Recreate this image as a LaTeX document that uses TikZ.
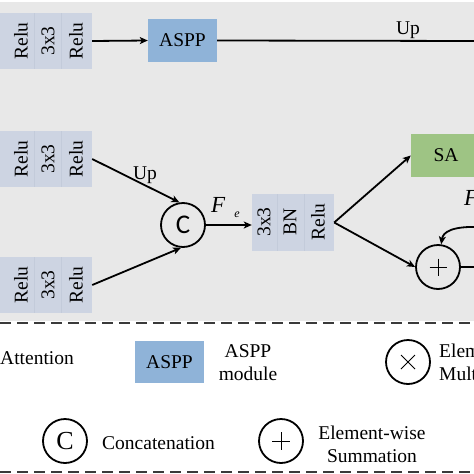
\documentclass[tikz,border=0pt]{standalone}
\usepackage{fontspec}
\setmainfont{Liberation Serif}
\newfontfamily\csans{Carlito}
\usetikzlibrary{arrows.meta}
\definecolor{bgc}{HTML}{E8E8E8}
\definecolor{blkfill}{HTML}{CDD4E2}
\definecolor{divc}{HTML}{C3CBDA}
\definecolor{asppc}{HTML}{8FB3D8}
\definecolor{sac}{HTML}{9EC484}
\definecolor{dashc}{HTML}{3A3A3A}
\begin{document}
\begin{tikzpicture}[x=1pt,y=-1pt,
  font=\fontsize{19.5}{23}\selectfont,
  ln/.style={line width=1.8pt},
  arr/.style={line width=1.8pt,-{Stealth[length=8pt,width=7pt,inset=2pt]}},
  blk/.style={fill=blkfill,inner sep=0pt,minimum width=92pt,minimum height=56pt},
  vtxt/.style={rotate=90,inner sep=0pt},
  op/.style={circle,draw,line width=1.8pt,minimum size=44pt,inner sep=0pt},
  dline/.style={dash pattern=on 11pt off 6pt,line width=1.6pt,draw=dashc},
  divl/.style={draw=divc,line width=0.8pt}
]
\useasboundingbox (0,0) rectangle (474,474);
\clip (0,0) rectangle (474,474);
\fill[bgc] (0,2) rectangle (474,321);
\draw[dline] (0,323) -- (474,323);
\draw[dline] (0,472) -- (474,472);

% left blocks
\node[blk] (b1) at (46,41) {};
\node[blk] (b2) at (46,159) {};
\node[blk] (b3) at (46,285) {};
\foreach \yy in {41,159,285}{
  \draw[divl] (34.5,\yy-28) -- (34.5,\yy+28);
  \draw[divl] (61.5,\yy-28) -- (61.5,\yy+28);
  \node[vtxt] at (21,\yy) {Relu};
  \node[vtxt] at (48,\yy) {3x3};
  \node[vtxt] at (76,\yy) {Relu};
}

% ASPP
\node[fill=asppc,minimum width=69pt,minimum height=43pt,inner sep=0pt] (aspp) at (182.5,40.5) {ASPP};
\coordinate (upend) at (480,41);
\draw[arr] (b1.east) -- (aspp.west);
\draw[ln] (aspp.east) -- (upend);
\node (up1) at (408,30) {Up};

% concatenation
\node[op] (cc) at (183,225) {\csans\fontsize{27}{27}\selectfont C};
\draw[arr] (b2.east) -- (cc.99);
\node (up2) at (145,175) {Up};
\draw[arr] (b3.east) -- (cc.-95);

% F_e
\node[anchor=base west,inner sep=0pt] (fe) at (211,212) {\fontsize{23}{23}\selectfont\itshape F\hspace{9pt}\raisebox{-5pt}{\fontsize{12}{12}\selectfont e}};

% conv block
\node[blk,minimum width=82pt,minimum height=57pt] (b4) at (293,222.5) {};
\draw[divl] (277.5,194) -- (277.5,251);
\draw[divl] (304.5,194) -- (304.5,251);
\node[vtxt] at (264,222) {3x3};
\node[vtxt] at (290,222) {BN};
\node[vtxt] at (318,222) {Relu};
\draw[arr] (cc.east) -- (b4.west |- cc.east);

% SA and sum
\node[fill=sac,minimum width=70pt,minimum height=43pt,inner sep=0pt] (sa) at (446,155.5) {};
\node at (446,155.5) {SA};
\node[op] (sum) at (438,267) {};
\draw[line width=0.9pt] (sum.center) ++(-8.5,0) -- ++(17,0);
\draw[line width=0.9pt] (sum.center) ++(0,-8.5) -- ++(0,17);
\draw[arr] (b4.east) -- (sa.west);
\draw[arr] (b4.east) -- (sum.west);
\coordinate (sumout) at (480,267);
\draw[ln] (sum.east) -- (sumout);
\coordinate (fin) at (480,227);
\draw[arr] (fin) .. controls (452,226) and (443,232) .. (sum.82);
\node[anchor=base west,inner sep=0pt] (f2) at (464,205) {\fontsize{23}{23}\selectfont\itshape F};

% legend
\node[anchor=west,inner sep=0pt] (att) at (0,358) {Attention};
\node[fill=asppc,minimum width=69pt,minimum height=42pt,inner sep=0pt] (laspp) at (169.5,362) {ASPP};
\node[align=center,inner sep=0pt] (lasppt) at (248,363) {ASPP\\module};
\node[op] (lmul) at (408,362) {};
\draw[line width=0.9pt] (lmul.center) ++(-7,-7) -- ++(14,14);
\draw[line width=0.9pt] (lmul.center) ++(-7,7) -- ++(14,-14);
\node[align=left,anchor=west,inner sep=0pt] (lmult) at (439,364) {Element-wise\\Multiplication};
\node[op] (lcat) at (65,441) {\fontsize{26}{26}\selectfont C};
\node[anchor=west,inner sep=0pt] (lcatt) at (102,443) {Concatenation};
\node[op] (lsum) at (281,441) {};
\draw[line width=0.9pt] (lsum.center) ++(-9,0) -- ++(18,0);
\draw[line width=0.9pt] (lsum.center) ++(0,-9) -- ++(0,18);
\node[align=center,inner sep=0pt] (lsumt) at (372,444) {Element-wise\\Summation};
\end{tikzpicture}
\end{document}
